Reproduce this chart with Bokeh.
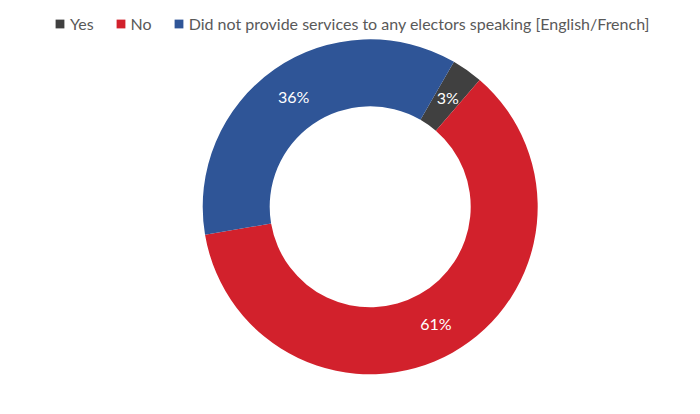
import numpy as np
from bokeh.plotting import figure
from bokeh.models import ColumnDataSource, Range1d, Legend, LegendItem
from bokeh.core.properties import value
from bokeh.embed import file_html
from bokeh.resources import INLINE

categories = ["Yes", "No", "Did not provide services to any electors speaking [English/French]"]
values = [3, 61, 36]
labels = ["3%", "61%", "36%"]
colors = ["#404040", "#D2212C", "#2F5597"]

W, H = 684, 398
FONT = "Lato"

cx, cy = 369.7, H - 206.3
r_out, r_in = 167.5, 100.5
first_angle = 60.0  # degrees, counter-clockwise from +x

vals = np.array(values, dtype=float)
frac = vals / vals.sum()
cum = np.concatenate([[0], np.cumsum(frac)])
start = np.radians(first_angle - cum[:-1] * 360)
end = np.radians(first_angle - cum[1:] * 360)
mid = (start + end) / 2
r_mid = (r_out + r_in) / 2

src = ColumnDataSource(dict(
    cat=categories, val=values, color=colors, start=start, end=end,
    lx=cx + r_mid * np.cos(mid), ly=cy + r_mid * np.sin(mid), lab=labels,
    x=[cx] * len(values), y=[cy] * len(values),
))

p = figure(width=W, height=H, output_backend="svg", toolbar_location=None,
           x_range=Range1d(0, W), y_range=Range1d(0, H), min_border=0,
           background_fill_color="white", border_fill_color="white")
p.axis.visible = False
p.grid.visible = False
p.outline_line_color = None

r = p.annular_wedge(x="x", y="y", inner_radius=r_in, outer_radius=r_out,
                    inner_radius_units="screen", outer_radius_units="screen",
                    start_angle="start", end_angle="end", direction="clock",
                    fill_color="color", line_color=None, source=src)

p.text(x="lx", y="ly", text="lab", source=src, text_color="white",
       text_font=value(FONT), text_font_size="16px",
       text_align="center", text_baseline="middle")

items = [LegendItem(label=c, renderers=[r], index=i) for i, c in enumerate(categories)]
legend = Legend(items=items, orientation="horizontal", location=(54, 365),
                margin=0, padding=2, spacing=21, label_standoff=5,
                glyph_width=11, glyph_height=11,
                label_text_font=FONT, label_text_font_size="16px",
                label_text_color="#595959", border_line_color=None,
                background_fill_alpha=0)
p.add_layout(legend)

open("out.html", "w").write(file_html(p, INLINE))
